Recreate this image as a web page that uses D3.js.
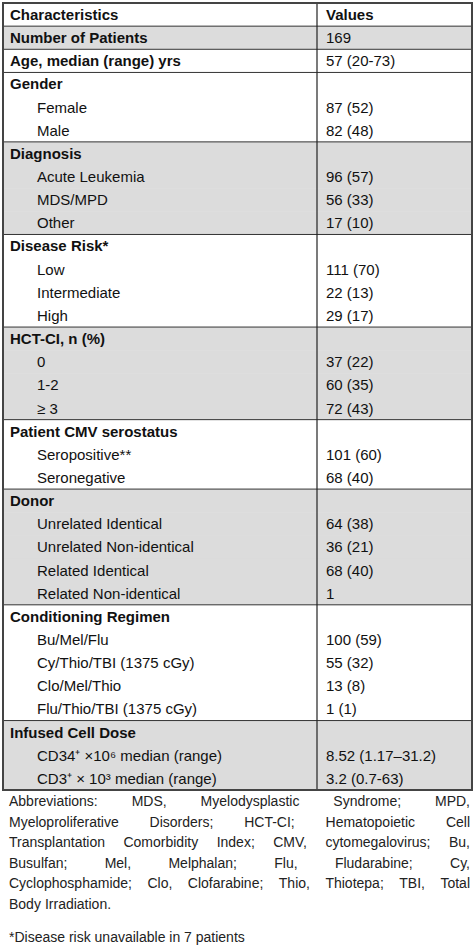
<!DOCTYPE html>
<html><head><meta charset="utf-8">
<script src="https://cdn.jsdelivr.net/npm/d3@7"></script>
<style>body{margin:0;background:#fff}text{font-family:"Liberation Sans",Arial,sans-serif}</style>
</head><body><div id="chart"></div>
<script>
// rows: label, value, level (0 = bold group, 1 = indented item), group
var rowLabels = ["Number of Patients","Age, median (range) yrs","Gender","Female","Male","Diagnosis","Acute Leukemia","MDS/MPD","Other","Disease Risk*","Low","Intermediate","High","HCT-CI, n (%)","0","1-2","≥ 3","Patient CMV serostatus","Seropositive**","Seronegative","Donor","Unrelated Identical","Unrelated Non-identical","Related Identical","Related Non-identical","Conditioning Regimen","Bu/Mel/Flu","Cy/Thio/TBI (1375 cGy)","Clo/Mel/Thio","Flu/Thio/TBI (1375 cGy)","Infused Cell Dose","CD34⁺ ×10⁶ median (range)","CD3⁺ × 10³ median (range)"];
var rowValues = ["169","57 (20-73)","","87 (52)","82 (48)","","96 (57)","56 (33)","17 (10)","","111 (70)","22 (13)","29 (17)","","37 (22)","60 (35)","72 (43)","","101 (60)","68 (40)","","64 (38)","36 (21)","68 (40)","1","","100 (59)","55 (32)","13 (8)","1 (1)","","8.52 (1.17–31.2)","3.2 (0.7-63)"];
var rowLevel = [0,0,0,1,1,0,1,1,1,0,1,1,1,0,1,1,1,0,1,1,0,1,1,1,1,0,1,1,1,1,0,1,1];
var rowGroup = [0,1,2,2,2,3,3,3,3,4,4,4,4,5,5,5,5,6,6,6,7,7,7,7,7,8,8,8,8,8,9,9,9];
var greyGroups = [0,3,5,7,9];
var footLines = [
  "Abbreviations: MDS, Myelodysplastic Syndrome; MPD,",
  "Myeloproliferative Disorders; HCT-CI; Hematopoietic Cell",
  "Transplantation Comorbidity Index; CMV, cytomegalovirus; Bu,",
  "Busulfan; Mel, Melphalan; Flu, Fludarabine; Cy,",
  "Cyclophosphamide; Clo, Clofarabine; Thio, Thiotepa; TBI, Total",
  "Body Irradiation."
];
var footNote = "*Disease risk unavailable in 7 patients";

var W = 474, H = 950, tLeft = 3, tRight = 472, colX = 317, tTop = 3, tBottom = 790;
var svg = d3.select("#chart").append("svg").attr("width", W).attr("height", H);

var y = d3.scaleBand().domain(d3.range(rowLabels.length + 1)).range([tTop, tBottom]);

// shading
svg.selectAll("rect.bg").data(rowLabels).enter().append("rect")
  .attr("x", tLeft).attr("width", tRight - tLeft)
  .attr("y", (d, i) => y(i + 1)).attr("height", y.bandwidth() + 0.5)
  .attr("fill", (d, i) => greyGroups.indexOf(rowGroup[i]) >= 0 ? "#dcdcdc" : "#fff");

// header
svg.append("text").attr("x", 10).attr("y", y(0) + 17).attr("font-weight", "bold").attr("font-size", 15).attr("fill", "#111").text("Characteristics");
svg.append("text").attr("x", 326).attr("y", y(0) + 17).attr("font-weight", "bold").attr("font-size", 15).attr("fill", "#111").text("Values");

svg.selectAll("text.lab").data(rowLabels).enter().append("text")
  .attr("x", (d, i) => rowLevel[i] ? 37 : 10)
  .attr("y", (d, i) => y(i + 1) + 17)
  .attr("font-size", 15).attr("fill", "#111")
  .attr("font-weight", (d, i) => rowLevel[i] ? "normal" : "bold")
  .text(d => d);
svg.selectAll("text.val").data(rowValues).enter().append("text")
  .attr("x", 326).attr("y", (d, i) => y(i + 1) + 17)
  .attr("font-size", 15).attr("fill", "#111").text(d => d);

// group separators
var lines = [y(1)];
rowGroup.forEach((g, i) => { if (i > 0 && g !== rowGroup[i - 1]) lines.push(y(i + 1)); });
svg.selectAll("line.sep").data(lines).enter().append("line")
  .attr("x1", tLeft).attr("x2", tRight).attr("y1", d => d).attr("y2", d => d)
  .attr("stroke", "#333").attr("stroke-width", 1);
svg.append("line").attr("x1", colX).attr("x2", colX).attr("y1", tTop).attr("y2", tBottom).attr("stroke", "#222").attr("stroke-width", 1.2);
svg.append("rect").attr("x", tLeft).attr("y", tTop).attr("width", tRight - tLeft).attr("height", tBottom - tTop)
  .attr("fill", "none").attr("stroke", "#444").attr("stroke-width", 2);

// justified footnote
footLines.forEach(function (line, li) {
  var yy = 806 + li * 20.5;
  var words = line.split(" ");
  var g = svg.append("g");
  var ts = words.map(w => g.append("text").attr("y", yy).attr("font-size", 14).attr("fill", "#222").text(w));
  var widths = ts.map(t => t.node().getComputedTextLength());
  var last = li === footLines.length - 1;
  var gap = last ? 4 : (470 - 9 - d3.sum(widths)) / (words.length - 1);
  var x = 9;
  ts.forEach((t, k) => { t.attr("x", x); x += widths[k] + gap; });
});
svg.append("text").attr("x", 9).attr("y", 942).attr("font-size", 14).attr("fill", "#222").text(footNote);
</script></body></html>
